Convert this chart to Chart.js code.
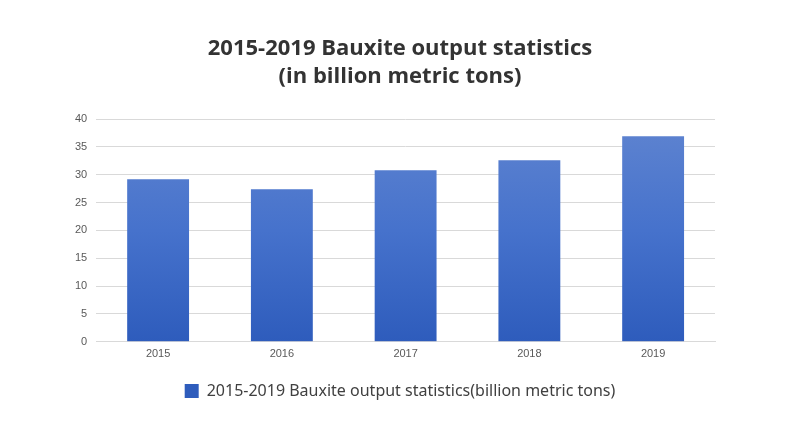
<!DOCTYPE html>
<html>
<head>
<meta charset="utf-8">
<script src="https://cdn.jsdelivr.net/npm/chart.js@4"></script>
<style>
  html, body { margin: 0; padding: 0; background: #fff; }
  #wrap { width: 800px; height: 430px; }
</style>
</head>
<body>
<div id="wrap"><canvas id="chartBauxite" width="800" height="430"></canvas></div>
<script>
// data
const years = ["2015", "2016", "2017", "2018", "2019"];
const output = [29.2, 27.4, 30.8, 32.6, 36.9];
const seriesLabel = "2015-2019 Bauxite output statistics(billion metric tons)";
const titleLines = ["2015-2019 Bauxite output statistics", "(in billion metric tons)"];

function barFill(ctx) {
  const chart = ctx.chart;
  const area = chart.chartArea;
  if (!area) return "#4a72c8";
  const g = chart.ctx.createLinearGradient(0, area.top, 0, area.bottom);
  g.addColorStop(0, "#5f84d0");
  g.addColorStop(0.5, "#4672cc");
  g.addColorStop(1, "#2e5cbc");
  return g;
}

const chartBauxite = document.getElementById("chartBauxite");
new Chart(chartBauxite, {
  type: "bar",
  data: {
    labels: years,
    datasets: [
      {
        data: output,
        label: seriesLabel,
        backgroundColor: barFill,
        borderWidth: 0,
        categoryPercentage: 1,
        barPercentage: 0.5,
      },
    ],
  },
  options: {
    responsive: false,
    animation: false,
    layout: { padding: { left: 66, right: 66, top: 20, bottom: 21 } },
    plugins: {
      title: {
        display: true,
        text: titleLines,
        color: "#333333",
        font: { family: "'Open Sans', sans-serif", size: 22, weight: "bold", lineHeight: 1.25 },
        padding: { top: 15, bottom: 29 },
      },
      legend: {
        position: "bottom",
        labels: {
          color: "#404040",
          font: { family: "'Noto Sans', sans-serif", size: 16 },
          boxWidth: 14,
          boxHeight: 14,
          padding: 24,
        },
      },
      tooltip: { enabled: false },
    },
    scales: {
      x: {
        grid: { display: false },
        border: { color: "#d9d9d9" },
        ticks: { color: "#595959", font: { family: "'Liberation Sans', sans-serif", size: 11 }, padding: -2 },
      },
      y: {
        min: 0,
        max: 40,
        ticks: { stepSize: 5, color: "#595959", font: { family: "'Liberation Sans', sans-serif", size: 11 }, padding: 9 },
        grid: { color: "#d9d9d9", drawTicks: false },
        border: { display: false },
      },
      // empty right-hand spacer so the title and legend stay centred on the page
      ySpacer: {
        type: "linear",
        position: "right",
        ticks: { display: false },
        grid: { display: false },
        border: { display: false },
        afterFit: (axis) => { axis.width = 19; },
      },
    },
  },
});
</script>
</body>
</html>
